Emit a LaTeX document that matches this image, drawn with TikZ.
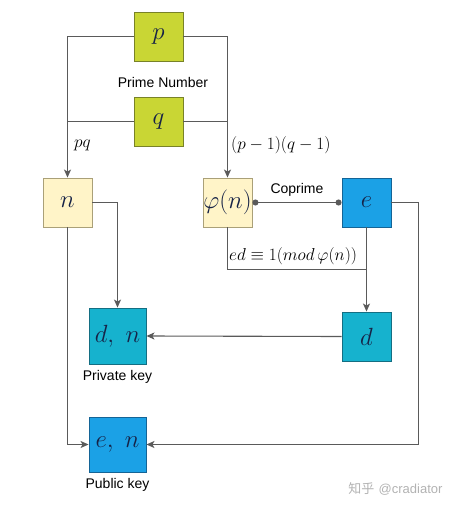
\documentclass[tikz,border=0pt]{standalone}
\usepackage{amsmath,amssymb}
\usepackage{fontspec}
\setsansfont{Liberation Sans}
\newfontfamily\cjkfont{Noto Sans CJK SC}
\usetikzlibrary{arrows.meta, positioning, calc}
\definecolor{primeFill}{RGB}{201,214,52}
\definecolor{primeEdge}{RGB}{120,130,40}
\definecolor{numFill}{RGB}{255,244,200}
\definecolor{numEdge}{RGB}{170,160,120}
\definecolor{pubFill}{RGB}{27,161,230}
\definecolor{pubEdge}{RGB}{20,100,150}
\definecolor{privFill}{RGB}{22,178,206}
\definecolor{privEdge}{RGB}{20,110,130}
\definecolor{lineGray}{RGB}{90,90,90}
\definecolor{mathInk}{RGB}{22,34,70}

\begin{document}
\begin{tikzpicture}[
    x=1pt, y=-1pt,
    keybox/.style={rectangle, draw, line width=0.9pt, minimum width=49pt, minimum height=49pt, inner sep=0pt, text=mathInk, font=\fontsize{24}{26}\selectfont},
    prime/.style={keybox, fill=primeFill, draw=primeEdge},
    num/.style={keybox, fill=numFill, draw=numEdge},
    pub/.style={keybox, fill=pubFill, draw=pubEdge},
    priv/.style={keybox, fill=privFill, draw=privEdge},
    wire/.style={line width=1.1pt, lineGray},
    arrow/.style={wire, -{Stealth[length=8pt, width=7pt, inset=2pt]}},
    caption/.style={font=\sffamily\fontsize{14}{16}\selectfont, inner sep=0pt, text=black},
    mathlbl/.style={font=\fontsize{16}{18}\selectfont, inner sep=0pt, text=black}
]
\useasboundingbox (0,0) rectangle (456,508);

% Primes
\node[prime] (p) at (158.5,36.5) {$p$};
\node[prime] (q) at (158.5,121.5) {$q$};
\node[caption] (prm) at (163,82) {Prime Number};

% Modulus and totient
\node[num] (n) at (67.5,202.5) {$n$};
\node[num] (phi) at (227.5,202.5) {$\varphi(n)$};

% Exponents
\node[pub] (e) at (366.5,202.5) {$e$};
\node[priv] (d) at (366.5,336.5) {$d$};

% Keys
\node[priv, minimum width=57pt, minimum height=56pt] (dn) at (117.5,336) {$d,\ n$};
\node[caption, below=6pt of dn] (privlbl) {Private key};
\node[pub, minimum width=57pt, minimum height=55pt] (en) at (117.5,444.5) {$e,\ n$};
\node[caption, below=6pt of en] (publbl) {Public key};

% p and q feed n and phi(n)
\draw[arrow] (p.west) -| (n.north);
\draw[arrow] (p.east) -| (phi.north);
\draw[wire] (q.west) -- (q.west -| n.north);
\draw[wire] (q.east) -- (q.east -| phi.north);
\node[mathlbl, anchor=west] (pq) at (74,145) {$pq$};
\node[mathlbl, anchor=west] (pq1) at (231,145) {$(p-1)(q-1)$};

% Coprime
\draw[wire, {Circle[length=6pt]}-{Circle[length=6pt]}] (phi.east) -- node[caption, above=6pt] {Coprime} (e.west);

% ed = 1 mod phi(n)
\coordinate (join) at (e.south |- 0,269.5);
\draw[wire] (phi.south) |- (join);
\node[mathlbl, anchor=south west] (cong) at (229,265) {$ed \equiv 1(mod\,\varphi(n))$};
\draw[arrow] (e.south) -- (d.north);

% Private key
\draw[arrow] (n.east) -| (dn.north);
\draw[arrow] (d.west) -- (dn.east);

% Public key
\draw[arrow] (n.south) |- (en.west);
\draw[arrow] (e.east) -- ++(27,0) |- (en.east);

% watermark
\node[font=\fontsize{13}{15}\selectfont, text=black!30, anchor=east] (wm) at (446,489) {{\cjkfont 知乎} \sffamily @cradiator};

\end{tikzpicture}
\end{document}
